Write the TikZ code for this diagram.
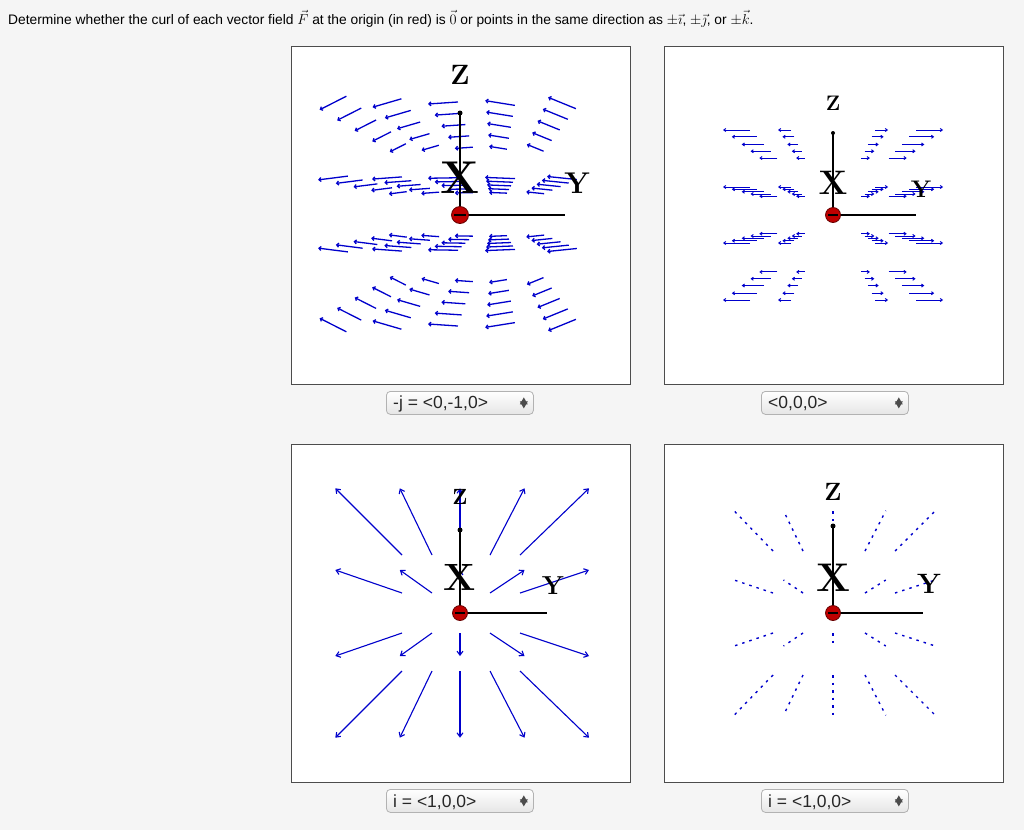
\documentclass[tikz,border=0pt]{standalone}
\usepackage{fontspec}
\setmainfont{Liberation Sans}
\newfontfamily\lmr{Latin Modern Roman}
\usetikzlibrary{arrows.meta}
\begin{document}
\begin{tikzpicture}[x=1pt,y=-1pt,
  panel/.style={draw=black!70,line width=1pt,fill=white},
  vec/.style={draw=blue!80!black,line width=1.3pt},
  axis/.style={line width=2pt,black},
  dd/.style={draw=black!30,rounded corners=4pt,top color=white,bottom color=black!10,line width=0.8pt},
  ddtxt/.style={anchor=west,font=\fontsize{17.5}{19}\selectfont,inner sep=0pt,text=black!85},
  lab/.style={font=\lmr\bfseries,inner sep=0pt}]
\useasboundingbox (0,0) rectangle (1024,830);
\fill[black!4] (0,0) rectangle (1024,830);
\node[anchor=base west,inner sep=0pt,font=\fontsize{13.8}{15}\selectfont] (title) at (8,24)
 {Determine whether the curl of each vector field $\vec F$ at the origin (in red) is $\vec 0$ or points in the same direction as $\pm\vec\imath$, $\pm\vec\jmath$, or $\pm\vec k$.};
% panels
\draw[panel] (291,46) rectangle (630,384);
\draw[panel] (664,46) rectangle (1003,384);
\draw[panel] (291,444) rectangle (630,782);
\draw[panel] (664,444) rectangle (1003,782);
% ---- TL field
\begin{scope}[shift={(460,215)}]
\foreach \f in {1,0.9,0.8,0.7,0.6}{
 \foreach \x in {-127,-73,-17,40,102}{
  \foreach \y/\k in {-112/1,-37/0.25,35/-0.25,110/-1}{
   \pgfmathsetmacro\cx{\f*\x+(1-\f)*35}
   \pgfmathsetmacro\cy{\f*\y}
   \pgfmathsetmacro\s{\k*\x/250}
   \pgfmathsetmacro\L{15*\f}
   \pgfmathsetmacro\dx{\L/sqrt(1+\s*\s)}
   \pgfmathsetmacro\dy{\dx*\s}
   \draw[vec,-{Straight Barb[length=2pt,width=4pt]}] (\cx+\dx,\cy+\dy) -- (\cx-\dx,\cy-\dy);
}}}
\draw[axis] (0,0) -- (0,-102); \fill (0,-102) circle (2.5);
\draw[axis] (0,0) -- (105,0);
\node[lab,font=\lmr\bfseries\fontsize{28}{30}\selectfont] (zA) at (0,-140) {Z};
\node[lab,font=\lmr\bfseries\fontsize{46}{48}\selectfont] (xA) at (0,-37) {X};
\node[lab,font=\lmr\bfseries\fontsize{30}{32}\selectfont] (yA) at (117,-32) {Y};
\draw[fill=red!75!black,draw=red!40!black,line width=0.8pt] (0,0) circle (8.5);
\draw[line width=2.5pt] (-6,0) -- (6,0);
\end{scope}
% ---- TR field
\begin{scope}[shift={(833,215)}]
\foreach \f in {1,0.92,0.83,0.75,0.67}{
 \foreach \y in {-85,-28,28,85}{
  \foreach \a/\b in {-83/-110,-42/-55,42/55,83/110}{
   \draw[vec,line width=1pt,-{Straight Barb[length=2pt,width=3pt]}] (\f*\a,\f*\y) -- (\f*\b,\f*\y);
}}}
\draw[axis] (0,0) -- (0,-82); \fill (0,-82) circle (2);
\draw[axis] (0,0) -- (83,0);
\node[lab,font=\lmr\bfseries\fontsize{21}{23}\selectfont] (zB) at (0,-112) {Z};
\node[lab,font=\lmr\bfseries\fontsize{34}{36}\selectfont] (xB) at (0,-32) {X};
\node[lab,font=\lmr\bfseries\fontsize{24}{26}\selectfont] (yB) at (88,-26) {Y};
\draw[fill=red!75!black,draw=red!40!black,line width=0.8pt] (0,0) circle (7.5);
\draw[line width=2.2pt] (-5,0) -- (5,0);
\end{scope}
% ---- BL field
\begin{scope}[shift={(460,613)}]
\foreach \a in {-58,-28,0,30,60}{
 \foreach \b in {-58,-20,20,58}{
  \draw[vec,line width=1.1pt,-{Straight Barb[length=4pt,width=6pt]}] (\a,\b) -- (2.15*\a,2.15*\b);
}}
\draw[axis] (0,0) -- (0,-83); \fill (0,-83) circle (2.5);
\draw[axis] (0,0) -- (87,0);
\node[lab,font=\lmr\bfseries\fontsize{22}{24}\selectfont] (zC) at (0,-116) {Z};
\node[lab,font=\lmr\bfseries\fontsize{38}{40}\selectfont] (xC) at (0,-36) {X};
\node[lab,font=\lmr\bfseries\fontsize{26}{28}\selectfont] (yC) at (93,-27) {Y};
\draw[fill=red!75!black,draw=red!40!black,line width=0.8pt] (0,0) circle (7.5);
\draw[line width=2.2pt] (-5,0) -- (5,0);
\end{scope}
% ---- BR field
\begin{scope}[shift={(833,613)}]
\foreach \a in {-60,-30,0,32,62}{
 \foreach \b in {-62,-20,20,62}{
  \draw[vec,line width=1.4pt,dash pattern=on 2.5pt off 5pt] (\a,\b) -- (1.65*\a,1.65*\b);
}}
\draw[axis] (0,0) -- (0,-87); \fill (0,-87) circle (2.5);
\draw[axis] (0,0) -- (90,0);
\node[lab,font=\lmr\bfseries\fontsize{25}{27}\selectfont] (zD) at (0,-121) {Z};
\node[lab,font=\lmr\bfseries\fontsize{40}{42}\selectfont] (xD) at (0,-35) {X};
\node[lab,font=\lmr\bfseries\fontsize{28}{30}\selectfont] (yD) at (96,-29) {Y};
\draw[fill=red!75!black,draw=red!40!black,line width=0.8pt] (0,0) circle (7.5);
\draw[line width=2.2pt] (-5,0) -- (5,0);
\end{scope}
% ---- dropdowns
\foreach \x/\y/\t/\n in {386/391/{-j = <0,-1,0>}/dA,761/391/{<0,0,0>}/dB,386/789/{i = <1,0,0>}/dC,761/789/{i = <1,0,0>}/dD}{
  \node[dd,minimum width=147pt,minimum height=23pt,anchor=north west,inner sep=0pt] (\n) at (\x,\y) {};
  \node[ddtxt] at ([xshift=7pt,yshift=-1pt]\n.west) {\t};
  \fill[black!70] ([xshift=-14pt,yshift=-1.5pt]\n.east) -- ++(8,0) -- ++(-4,-7) -- cycle;
  \fill[black!70] ([xshift=-14pt,yshift=1.5pt]\n.east) -- ++(8,0) -- ++(-4,7) -- cycle;
}
\end{tikzpicture}
\end{document}
